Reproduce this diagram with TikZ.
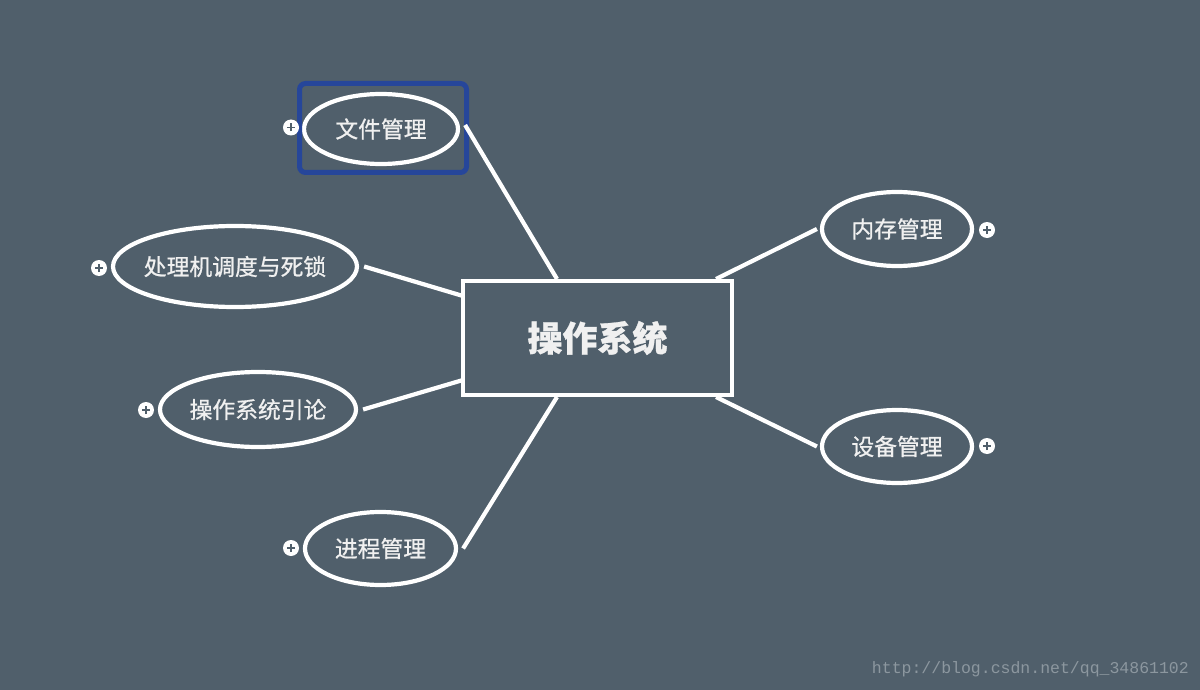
\documentclass[tikz,border=0pt]{standalone}
\usepackage{fontspec}
\newfontfamily\cjk[FakeBold=0.8]{Noto Sans CJK SC}
\setmonofont{Liberation Mono}
\usetikzlibrary{shapes.geometric,calc}
\definecolor{bg}{HTML}{505F6B}
\definecolor{selblue}{HTML}{26469A}
\definecolor{txt}{HTML}{F0F0F0}
\definecolor{wm}{HTML}{8C979F}
\tikzset{
  topic/.style={ellipse,draw=white,line width=4.2pt,minimum width=#1,minimum height=74pt,inner sep=0pt,text=txt,font=\cjk\fontsize{22.8}{22.8}\selectfont},
  topic/.default=150pt,
  central/.style={rectangle,draw=white,line width=4.2pt,minimum width=269pt,minimum height=114pt,text=txt,font=\cjk\bfseries\fontsize{35}{35}\selectfont},
  conn/.style={draw=white,line width=4.2pt},
  plusicon/.style={circle,fill=white,minimum size=16pt,inner sep=0pt,
    path picture={\draw[bg,line width=1.8pt] ([xshift=-4pt]path picture bounding box.center)--([xshift=4pt]path picture bounding box.center) ([yshift=-4pt]path picture bounding box.center)--([yshift=4pt]path picture bounding box.center);}},
}
\begin{document}
\begin{tikzpicture}[x=1pt,y=-1pt]
\fill[bg] (0,0) rectangle (1200,690);
\useasboundingbox (0,0) rectangle (1200,690);
% central
\node[central] (os) at (597.5,338) {操作系统};
% topics
\node[topic=154pt,minimum height=70pt] (wj) at (381,129) {文件管理};
\node[topic=244pt,minimum height=81pt,inner xsep=-6pt] (cl) at (235,266.5) {处理机调度与死锁};
\node[topic=196pt,minimum height=75pt,inner xsep=-2pt] (yl) at (258,409.5) {操作系统引论};
\node[topic=151pt,minimum height=73pt] (jc) at (380.5,548.5) {进程管理};
\node[topic=150pt,minimum height=74pt] (nc) at (897,229) {内存管理};
\node[topic=150pt,minimum height=73pt] (sb) at (897,446.5) {设备管理};
% selection frame
\draw[selblue,line width=5pt,rounded corners=6pt] (299.5,83.5) rectangle (466.5,172.5);
% anchor points on central box
\coordinate (osA) at (557,279);
\coordinate (osB) at (463,296);
\coordinate (osC) at (463,380);
\coordinate (osD) at (557,397);
\coordinate (osE) at (716,279);
\coordinate (osF) at (716,397);
% connectors
\draw[conn] (osA) -- ([xshift=5pt,yshift=4pt]wj.east);
\draw[conn] (osB) -- ([xshift=5pt]cl.east);
\draw[conn] (osC) -- ([xshift=5pt]yl.east);
\draw[conn] (osD) -- ([xshift=5pt]jc.east);
\draw[conn] (osE) -- ([xshift=-3pt]nc.west);
\draw[conn] (osF) -- ([xshift=-3pt]sb.west);
% plus icons
\node[plusicon] (p1) at (291,127.5) {};
\node[plusicon] (p2) at (99,268) {};
\node[plusicon] (p3) at (146,410) {};
\node[plusicon] (p4) at (291,548) {};
\node[plusicon] (p5) at (987,230) {};
\node[plusicon] (p6) at (987,446) {};
% watermark
\node[anchor=east,text=wm,font=\ttfamily\fontsize{16.5}{16.5}\selectfont,inner sep=0pt] (wmk) at (1189,669) {http://blog.csdn.net/qq\_34861102};
\end{tikzpicture}
\end{document}
